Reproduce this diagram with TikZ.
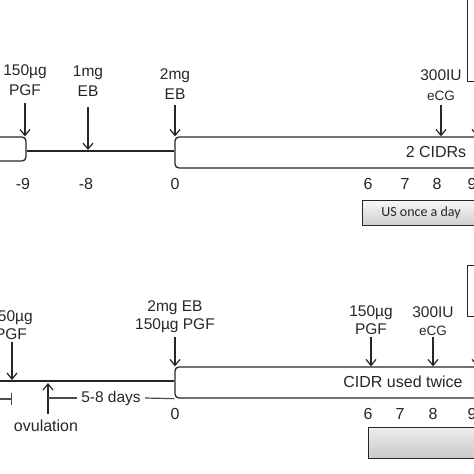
\documentclass[tikz,border=0pt]{standalone}
\usepackage{fontspec}
\setmainfont{Liberation Sans}
\newfontfamily\calibri{Carlito}
\usetikzlibrary{positioning,arrows.meta}

\begin{document}
\begin{tikzpicture}[x=1pt, y=-1pt, font=\fontsize{15.5}{20}\selectfont,
  every node/.style={text=black!85},
  lab/.style={align=center, inner sep=0pt, text depth=0pt, anchor=south},
  labb/.style={lab, font=\fontsize{15.5}{18}\selectfont},
  small/.style={font=\fontsize{13.5}{18}\selectfont},
  day/.style={inner sep=0pt, font=\fontsize{16}{18}\selectfont},
  dose/.style={black!85, line width=1.2pt, -{Straight Barb[length=6pt, width=10pt]}, shorten <=5pt},
  insert/.style={draw=black!85, line width=1.3pt, rounded corners=4pt},
  usbox/.style={draw=black!85, line width=1.1pt, top color=gray!6, bottom color=gray!38},
  legendbox/.style={draw=black!85, line width=1.1pt, anchor=south west, minimum width=60},
  hline/.style={black!85, line width=2.6pt},
  dimline/.style={black!70, line width=1.2pt}]
  \useasboundingbox (0,0) rectangle (474,474);
  \clip (0,0) rectangle (474,474);
  % top protocol
  \node[insert, minimum width=60, minimum height=24] (cidrold) at (-4,149) {};
  \node[insert, minimum width=440, minimum height=31] (cidra) at (395,152.5) {};
  \node[font=\fontsize{16}{18}\selectfont] (cidratext) at (436,152) {2 CIDRs};
  \coordinate (linea) at (0,151);
  \draw[hline] (cidrold.east |- linea) -- (cidra.west |- linea);
  \node[lab] (pgfa) at (25,95.5) {150µg\\PGF};
  \node[lab] (eba) at (88,96.5) {1mg\\EB};
  \node[lab] (ebb) at (175,99.5) {2mg\\EB};
  \node[lab] (ecga) at (441,101) {300IU\\{\fontsize{13.5}{18}\selectfont eCG}};
  \coordinate (offa) at (477,105);
  \draw[dose, shorten <=7pt] (pgfa.south) -- (pgfa.south |- cidrold.north);
  \draw[dose, shorten <=10pt, shorten >=1pt] (eba.south) -- (eba.south |- linea);
  \draw[dose] (ebb.south) -- (ebb.south |- cidra.north);
  \draw[dose, shorten <=4pt] (ecga.south) -- (ecga.south |- cidra.north);
  \draw[dose, shorten <=0pt] (offa) -- (offa |- cidra.north);
  \foreach \x/\t [count=\i] in {23/-9, 86/-8, 175/0, 368/6, 405/7, 437/8, 472/9}
    \node[day] (dtop\i) at (\x,184) {\t};
  \node[usbox, minimum width=250, minimum height=25, anchor=north west] (usdaily) at (362,200) {};
  \node[font=\calibri\fontsize{14}{16}\selectfont] (ustext) at (421,212.5) {US once a day};
  \node[legendbox, minimum height=120] (legenda) at (467,82) {};

  % bottom protocol
  \node[insert, minimum width=440, minimum height=31] (cidrb) at (395,382.5) {};
  \node[font=\fontsize{16}{18}\selectfont] (cidrbtext) at (403,382) {CIDR used twice};
  \coordinate (lineb) at (0,381);
  \coordinate (lstart) at (-10,381);
  \draw[hline] (lstart) -- (cidrb.west |- lineb);
  \node[labb] (pgfb) at (11,339.5) {150µg\\PGF};
  \node[labb] (ebpgf) at (175,329.5) {2mg EB\\150µg PGF};
  \node[labb] (pgfc) at (371,334.5) {150µg\\PGF};
  \node[labb] (ecgb) at (433,336) {300IU\\{\fontsize{13.5}{18}\selectfont eCG}};
  \coordinate (offb) at (477,337);
  \draw[dose, shorten <=2pt, shorten >=1pt] ([xshift=1pt]pgfb.south) -- ([xshift=1pt]pgfb.south |- lineb);
  \draw[dose, shorten <=7pt] (ebpgf.south) -- (ebpgf.south |- cidrb.north);
  \draw[dose, shorten <=2pt] (pgfc.south) -- (pgfc.south |- cidrb.north);
  \draw[dose, shorten <=1pt] (ecgb.south) -- (ecgb.south |- cidrb.north);
  \draw[dose, shorten <=0pt] (offb) -- (offb |- cidrb.north);
  \coordinate (dimst) at (-5,399);
  \coordinate (dimend) at (12,399);
  \draw[dimline, -{Bar[width=12pt]}] (dimst) -- (dimend);
  \node[font=\fontsize{16}{18}\selectfont] (ovul) at (46,426) {ovulation};
  \draw[dose, shorten <=3pt, shorten >=2pt] ([xshift=2pt]ovul.north) -- ([xshift=2pt]ovul.north |- lineb);
  \node[inner sep=4pt] (gap) at (111,398) {5-8 days};
  \draw[dimline] ([xshift=2pt]ovul.north |- gap) -- (gap.west);
  \draw[dimline] (gap.east) -- (cidrb.south west);
  \foreach \x/\t [count=\i] in {175/0, 368/6, 400/7, 433/8, 472/9}
    \node[day] (dbot\i) at (\x,414) {\t};
  \node[usbox, top color=gray!14, bottom color=gray!42, minimum width=250, minimum height=31, anchor=north west] (usbottom) at (368,427) {};
  \node[legendbox, minimum height=51] (legendb) at (467,317) {};
\end{tikzpicture}
\end{document}
